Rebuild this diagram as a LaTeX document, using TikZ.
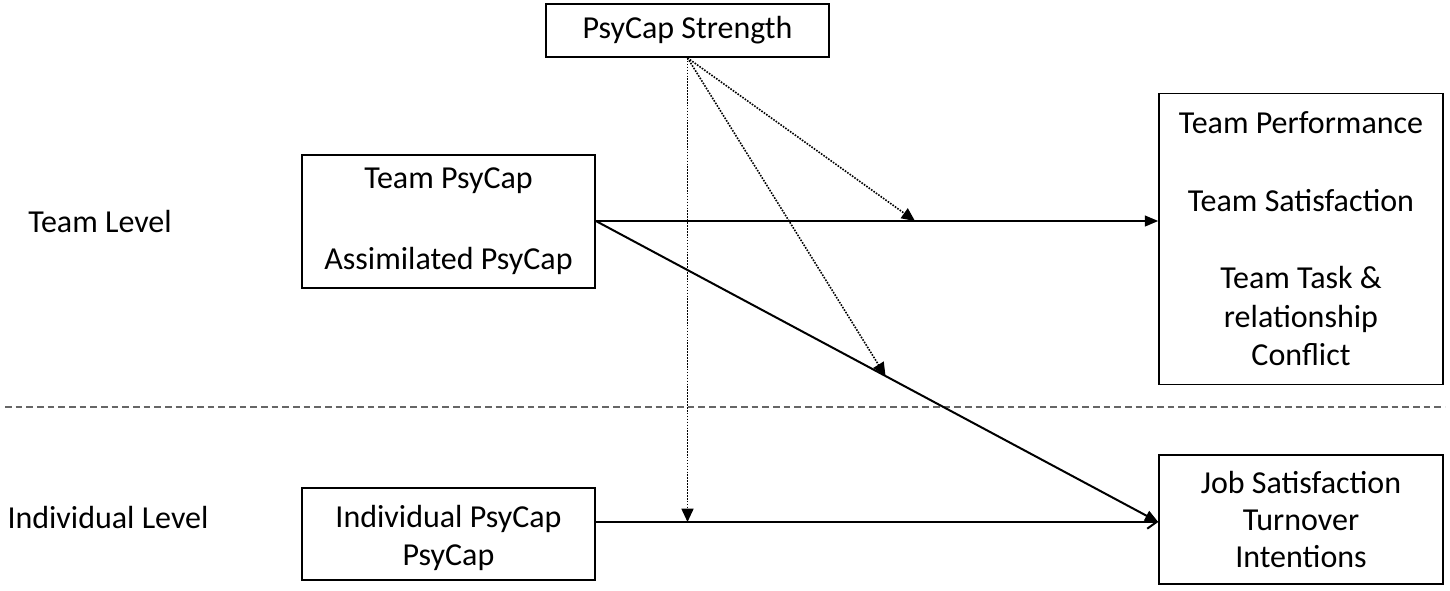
\documentclass[tikz,border=0pt]{standalone}
\usepackage{fontspec}
\setmainfont{Carlito}
\usetikzlibrary{positioning,calc,arrows.meta}

\tikzset{
    box/.style={draw, line width=1.1pt, align=center, inner sep=0pt},
    link/.style={line width=1.5pt},
    moderate/.style={line width=1.2pt, densely dotted, -{Triangle[length=10pt,width=9pt]}}
}

\begin{document}
\begin{tikzpicture}[x=0.75pt, y=-0.75pt, font=\fontsize{24}{29}\selectfont]
    \useasboundingbox (0,0) rectangle (1450,590);
    % boxes
    \node [box, minimum width=212pt, minimum height=40pt] (strength) at (687.5,30.5) {PsyCap Strength};
    \node [box, minimum width=220pt, minimum height=100pt, font=\fontsize{24}{30.5}\selectfont] (team) at (448.5,221.5) {Team PsyCap\\ \\Assimilated PsyCap};
    \node [box, minimum width=220pt, minimum height=69pt] (indiv) at (448.5,534) {};
    \node [align=center, inner sep=0pt] (indivtxt) at (448.5,538) {Individual PsyCap\\PsyCap};
    \node [box, minimum width=213pt, minimum height=218pt] (teamout) at (1301,239) {Team Performance\\ \\Team Satisfaction\\ \\Team Task \&\\relationship\\Conflict};
    \node [box, minimum width=213pt, minimum height=97pt, font=\fontsize{24}{27.5}\selectfont] (indivout) at (1301,519.5) {Job Satisfaction\\Turnover\\Intentions};
    \node (teamlvl) at (100,222) {Team Level};
    \node (indivlvl) at (108,517) {Individual Level};
    % level separator
    \draw [line width=1.1pt, gray!80!black, dash pattern=on 5pt off 3pt] (5,407) -- (1445,407);
    % main paths
    \coordinate (teamr) at (team.east |- 0,221);
    \coordinate (indivr) at (indiv.east |- 0,522);
    \coordinate (hit) at (teamout.west |- teamr);
    \coordinate (hitb) at (indivout.west |- indivr);
    \draw [link, -{Triangle[length=10pt,width=8pt]}] (teamr) -- (hit);
    \draw [link, -{Triangle[length=10pt,width=8pt]}] (teamr) -- (hitb);
    \draw [link, -{Straight Barb[length=7pt,width=10pt]}] (indivr) -- (hitb);
    % moderation
    \coordinate (top) at (strength.south);
    \coordinate (m1) at (top |- indivr);
    \coordinate (m2) at (915,221);
    \coordinate (m3) at ($(teamr)!0.515!(hitb)$);
    \draw [moderate] (top) -- (m1);
    \draw [moderate] (top) -- (m2);
    \draw [moderate] (top) -- (m3);
\end{tikzpicture}
\end{document}
